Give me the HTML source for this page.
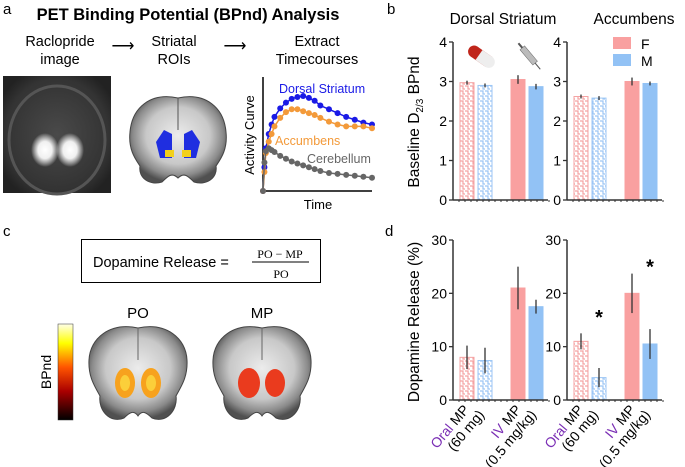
<!DOCTYPE html>
<html><head><meta charset="utf-8"><style>
body{margin:0;background:#fff;}
svg{display:block;font-family:"Liberation Sans",Arial,sans-serif;}
</style></head><body>
<svg width="685" height="467" viewBox="0 0 685 467">
<defs>
<pattern id="hatchF" width="5" height="5" patternUnits="userSpaceOnUse"><rect width="5" height="5" fill="#fff"/><path d="M0 1H3V4H5" stroke="#f5a3a3" stroke-width="1.2" fill="none"/></pattern>
<pattern id="hatchM" width="5" height="5" patternUnits="userSpaceOnUse"><rect width="5" height="5" fill="#fff"/><path d="M0 1H3V4H5" stroke="#9cc6f5" stroke-width="1.2" fill="none"/></pattern>
<linearGradient id="cbar" x1="0" y1="1" x2="0" y2="0"><stop offset="0" stop-color="#000"/><stop offset="0.3" stop-color="#a00"/><stop offset="0.55" stop-color="#f50"/><stop offset="0.8" stop-color="#ff0"/><stop offset="1" stop-color="#ffffe8"/></linearGradient>
<radialGradient id="pet" cx="0.5" cy="0.5" r="0.6"><stop offset="0" stop-color="#4a4a4a"/><stop offset="0.8" stop-color="#333"/><stop offset="1" stop-color="#222"/></radialGradient>
<radialGradient id="glow" cx="0.5" cy="0.5" r="0.5"><stop offset="0" stop-color="#fff"/><stop offset="0.5" stop-color="#f0f0f0"/><stop offset="1" stop-color="#fff" stop-opacity="0"/></radialGradient>
<radialGradient id="brainG" cx="0.5" cy="0.45" r="0.55"><stop offset="0" stop-color="#ececec"/><stop offset="0.6" stop-color="#c8c8c8"/><stop offset="0.85" stop-color="#8a8a8a"/><stop offset="1" stop-color="#505050"/></radialGradient>
</defs>

<text x="3" y="14" font-size="15">a</text>
<text x="387" y="14" font-size="15">b</text>
<text x="3" y="236" font-size="15">c</text>
<text x="385" y="236" font-size="15">d</text>

<text x="188" y="20" font-size="16.5" font-weight="bold" text-anchor="middle">PET Binding Potential (BPnd) Analysis</text>
<g font-size="14.5" text-anchor="middle">
<text x="60" y="46">Raclopride</text><text x="60" y="64">image</text>
<text x="174" y="46">Striatal</text><text x="174" y="64">ROIs</text>
<text x="317" y="46">Extract</text><text x="317" y="64">Timecourses</text>
<text x="123" y="51" font-size="16">⟶</text><text x="235" y="51" font-size="16">⟶</text>
</g>
<g>
<rect x="3" y="76" width="108" height="117" fill="url(#pet)"/>
<ellipse cx="57" cy="140" rx="48" ry="54" fill="none" stroke="#555" stroke-width="3"/>
<ellipse cx="45" cy="150" rx="14" ry="17" fill="url(#glow)"/><ellipse cx="70" cy="150" rx="14" ry="17" fill="url(#glow)"/>
</g>
<g>
<path d="M178 98 C150 92 132 108 130 132 C128 150 136 160 140 166 C138 178 150 186 162 182 C168 176 172 172 178 178 C184 172 188 176 194 182 C206 186 218 178 216 166 C220 160 228 150 226 132 C224 108 206 92 178 98 Z" fill="url(#brainG)" stroke="#444"/>
<line x1="178" y1="98" x2="178" y2="130" stroke="#555"/>
<path d="M164 130 L172 134 L172 158 L160 158 L156 142 Z" fill="#1f2ee0"/>
<path d="M192 130 L184 134 L184 158 L196 158 L200 142 Z" fill="#1f2ee0"/>
<rect x="165" y="150" width="9" height="7" fill="#f2d01a"/><rect x="182" y="150" width="9" height="7" fill="#f2d01a"/>
</g>
<g id="tac">
<line x1="263" y1="77" x2="263" y2="191" stroke="#000" stroke-width="1.5"/>
<line x1="263" y1="191" x2="372" y2="191" stroke="#000" stroke-width="1.5"/>
<text x="254" y="135" font-size="13" text-anchor="middle" transform="rotate(-90 254 135)">Activity Curve</text>
<text x="318" y="209" font-size="13" text-anchor="middle">Time</text>
<text x="279" y="93" font-size="12.5" fill="#1a1ae6">Dorsal Striatum</text>
<text x="275" y="145" font-size="12.5" fill="#f39a3a">Accumbens</text>
<text x="307" y="163" font-size="12.5" fill="#666">Cerebellum</text>
</g>

<g>
<rect x="81.5" y="239.5" width="239" height="43" fill="none" stroke="#000"/>
<text x="93" y="267" font-size="14.5">Dopamine Release =</text>
<text x="280" y="258" font-size="12" font-family="Liberation Serif,serif" text-anchor="middle">PO − MP</text>
<line x1="252" y1="262" x2="309" y2="262" stroke="#000"/>
<text x="281" y="278" font-size="12" font-family="Liberation Serif,serif" text-anchor="middle">PO</text>
</g>
<rect x="58" y="324" width="15" height="96" fill="url(#cbar)" stroke="#333" stroke-width="0.5"/>
<text x="51" y="372" font-size="14" text-anchor="middle" transform="rotate(-90 51 372)">BPnd</text>
<text x="138" y="318" font-size="15" text-anchor="middle">PO</text>
<text x="262" y="318" font-size="15" text-anchor="middle">MP</text>
<g>
<path d="M138 328 C110 322 90 338 89 360 C88 378 96 388 100 396 C98 410 110 424 124 418 C130 412 134 410 138 416 C142 410 146 412 152 418 C166 424 178 410 176 396 C180 388 188 378 187 360 C186 338 166 322 138 328 Z" fill="url(#brainG)" stroke="#444"/>
<line x1="138" y1="328" x2="138" y2="360" stroke="#666"/>
<ellipse cx="125" cy="383" rx="10" ry="15" fill="#f7a21e"/><ellipse cx="151" cy="383" rx="10" ry="15" fill="#f7a21e"/>
<ellipse cx="125" cy="383" rx="5" ry="8" fill="#fbcf3a"/><ellipse cx="151" cy="383" rx="5" ry="8" fill="#fbcf3a"/>
</g>
<g>
<path d="M262 328 C234 322 214 338 213 360 C212 378 220 388 224 396 C222 410 234 424 248 418 C254 412 258 410 262 416 C266 410 270 412 276 418 C290 424 302 410 300 396 C304 388 312 378 311 360 C310 338 290 322 262 328 Z" fill="url(#brainG)" stroke="#444"/>
<line x1="262" y1="328" x2="262" y2="360" stroke="#666"/>
<ellipse cx="249" cy="383" rx="11" ry="15" fill="#ea3b1e"/><ellipse cx="275" cy="383" rx="10" ry="14" fill="#ea3b1e"/>
</g>

<text x="503" y="24" font-size="15.5" text-anchor="middle">Dorsal Striatum</text>
<text x="634" y="24" font-size="15.5" text-anchor="middle">Accumbens</text>
<text x="419" y="122" font-size="15.5" text-anchor="middle" transform="rotate(-90 419 122)">Baseline D<tspan font-size="10" dy="4">2/3</tspan><tspan dy="-4"> BPnd</tspan></text>
<text x="419" y="322" font-size="15.5" text-anchor="middle" transform="rotate(-90 419 322)">Dopamine Release (%)</text>
<g>
<rect x="613" y="37" width="18" height="12" fill="#f9a0a0"/>
<text x="641" y="49" font-size="14">F</text>
<rect x="613" y="54" width="18" height="12" fill="#92c2f5"/>
<text x="641" y="66" font-size="14">M</text>
</g>
<g transform="rotate(35 479 55)">
<rect x="467" y="49" width="12" height="12" rx="6" fill="#c0261b"/><rect x="473" y="49" width="18" height="12" fill="#c0261b"/>
<rect x="479" y="49" width="13" height="12" fill="#eee"/><rect x="485" y="49" width="12" height="12" rx="6" fill="#eee"/>
</g>
<g transform="rotate(50 530 57)">
<rect x="518" y="54" width="20" height="6" fill="#bbb" stroke="#666" stroke-width="0.5"/>
<line x1="538" y1="57" x2="546" y2="57" stroke="#555"/><line x1="512" y1="57" x2="518" y2="57" stroke="#555" stroke-width="2"/>
</g>
<g id="charts"></g>
</svg>
<script>
const tacTimes = [0,0.5,1,2,3,4,6,8,10,12,14,16,18,20,23,26,29,32,35,38];
const tacDorsal = [0,0.25,0.45,0.6,0.7,0.78,0.87,0.93,0.97,0.99,1.0,0.98,0.95,0.9,0.86,0.82,0.78,0.75,0.72,0.7];
const tacAccumbens = [0,0.2,0.4,0.52,0.6,0.68,0.77,0.83,0.86,0.86,0.84,0.82,0.8,0.77,0.73,0.7,0.68,0.68,0.68,0.66];
const tacCerebellum = [0,0.3,0.42,0.45,0.43,0.41,0.37,0.34,0.31,0.29,0.27,0.25,0.23,0.21,0.19,0.18,0.17,0.16,0.15,0.14];
const bpDorsal = [2.97,2.9,3.05,2.87];
const bpDorsalErr = [0.05,0.05,0.11,0.07];
const bpAccumbens = [2.62,2.58,3.0,2.95];
const bpAccumbensErr = [0.05,0.05,0.1,0.05];
const drDorsal = [8,7.4,21,17.5];
const drDorsalErr = [2.2,2.4,4,1.3];
const drAccumbens = [11,4.2,20,10.5];
const drAccumbensErr = [1.5,1.8,3.7,2.8];
const starLevels = [16.5,26];
const bTicks = [0,1,2,3,4];
const dTicks = [0,10,20,30];
const barGroups = ['F-oral','M-oral','F-IV','M-IV'];

const NS='http://www.w3.org/2000/svg';
function mk(tag,attrs,parent){const e=document.createElementNS(NS,tag);for(const k in attrs)e.setAttribute(k,attrs[k]);parent.appendChild(e);return e;}

const tac=document.getElementById('tac');
const tx=t=>263+t/38*109, ty=v=>191-v*95;
[[tacDorsal,'#1a1ae6','dorsal'],[tacAccumbens,'#f39a3a','accumbens'],[tacCerebellum,'#666','cerebellum']].forEach(([vals,col,nm])=>{
  const pl=mk('polyline',{points:vals.map((v,i)=>tx(tacTimes[i])+','+ty(v)).join(' '),fill:'none',stroke:col,'stroke-width':1.5},tac);
  
  
  vals.forEach((v,i)=>{const c=mk('circle',{cx:tx(tacTimes[i]),cy:ty(v),r:3,fill:col},tac);
    
    });
});

const charts=document.getElementById('charts');
const fills=['url(#hatchF)','url(#hatchM)','#f9a0a0','#92c2f5'];
const strokes=['#f5a3a3','#9cc6f5','#f9a0a0','#92c2f5'];
const offs=[7,25,58,76];
function chart(ax,y0,yTop,max,ticks,vals,errs,name){
  const g=mk('g',{},charts);
  
  
  const sy=v=>y0-(v/max)*(y0-yTop);
  vals.forEach((v,i)=>{
    const x=ax+offs[i];
    const r=mk('rect',{x:x,y:sy(v),width:14,height:y0-sy(v),fill:fills[i],stroke:strokes[i],'stroke-width':1},g);
    
    
    const e=mk('line',{x1:x+7,x2:x+7,y1:sy(v-errs[i]),y2:sy(v+errs[i]),stroke:'#333','stroke-width':1.3},g);
    
    
  });
  const ya=mk('line',{x1:ax,x2:ax,y1:yTop,y2:y0,stroke:'#333','stroke-width':1.5},g);
  
  
  const xa=mk('line',{x1:ax,x2:ax+95,y1:y0,y2:y0,stroke:'#333','stroke-width':1.5},g);
  
  
  for(let k=1;k<=16;k++)mk('line',{x1:ax+k*6,x2:ax+k*6,y1:y0,y2:y0+2,stroke:'#333'},g);
  ticks.forEach(t=>{
    mk('line',{x1:ax-4,x2:ax,y1:sy(t),y2:sy(t),stroke:'#333','stroke-width':1.3},g);
    const tl=mk('text',{x:ax-6,y:sy(t)+5,'font-size':14,'text-anchor':'end'},g);
    tl.textContent=t;
    
    
  });
  return sy;
}
chart(453,200,42,4,bTicks,bpDorsal,bpDorsalErr,'chart-b-dorsal');
chart(567,200,42,4,bTicks,bpAccumbens,bpAccumbensErr,'chart-b-accumbens');
chart(453,400,240,30,dTicks,drDorsal,drDorsalErr,'chart-d-dorsal');
const syA=chart(567,400,240,30,dTicks,drAccumbens,drAccumbensErr,'chart-d-accumbens');
[[1,'star-oral',starLevels[0]],[3,'star-iv',starLevels[1]]].forEach(([i,nm,lv])=>{
  const s=mk('text',{x:567+offs[i]+7,y:syA(lv)+12,'font-size':20,'font-weight':'bold','text-anchor':'middle'},charts);
  s.textContent='*';
  
  
});
[453,567].forEach(ax=>{
  [[ax+18,'Oral','(60 mg)'],[ax+70,'IV','(0.5 mg/kg)']].forEach(([cx,a,b])=>{
    const t1=mk('text',{x:cx-1,y:410,'font-size':14,'text-anchor':'end',transform:`rotate(-50 ${cx-1} 410)`},charts);
    t1.innerHTML=`<tspan fill="#7b2fb5">${a}</tspan> MP`;
    
    
    const t2=mk('text',{x:cx+14,y:415,'font-size':14,'text-anchor':'end',transform:`rotate(-50 ${cx+14} 415)`},charts);
    t2.textContent=b;
    
    
  });
});
</script>
</body></html>
